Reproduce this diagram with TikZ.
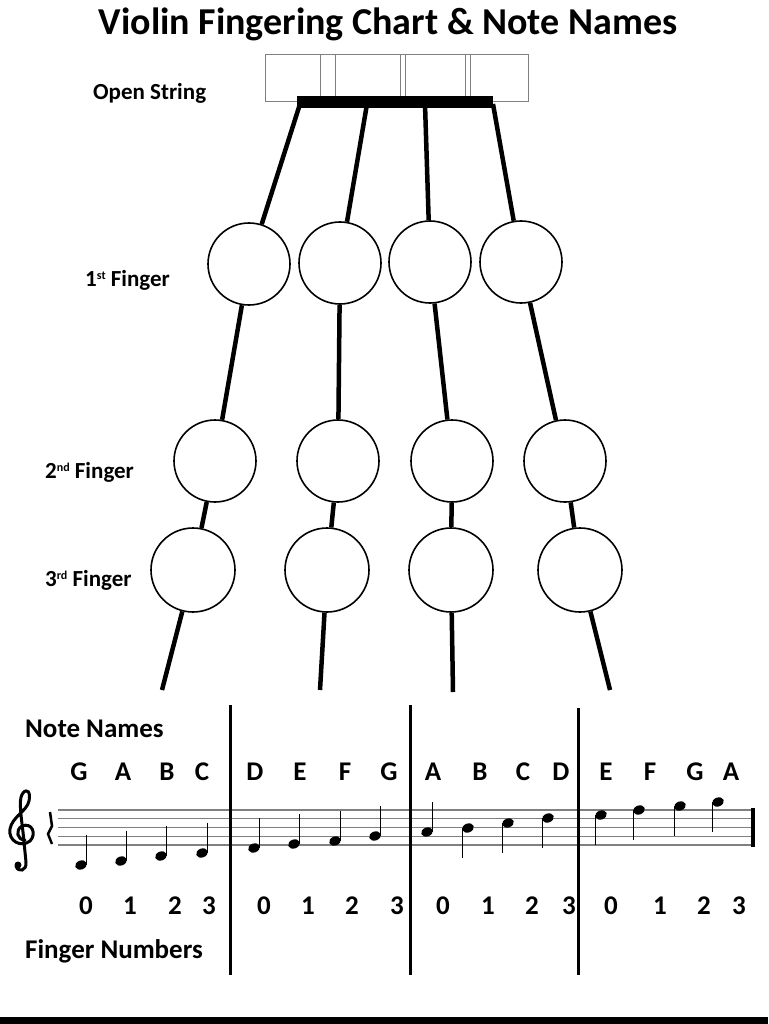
\documentclass[tikz,border=0pt]{standalone}
\usetikzlibrary{shapes.geometric}
\usepackage{fontspec}
\setmainfont{Carlito}
\newcommand\supx[1]{\raisebox{0.6ex}{\fontsize{12}{12}\selectfont #1}}
\begin{document}
\begin{tikzpicture}[x=1pt,y=-1pt,
  str/.style={line width=4.5pt},
  ring/.style={circle,draw,line width=1.6pt,minimum size=82pt,inner sep=0},
  lab/.style={font=\bfseries\fontsize{23}{23}\selectfont,anchor=west,inner sep=0},
  nm/.style={font=\bfseries\fontsize{27}{27}\selectfont},
  head/.style={ellipse,fill,minimum width=12pt,minimum height=9pt,inner sep=0,rotate=20}]
\useasboundingbox (0,0) rectangle (768,1024);
\fill (0,1017) rectangle (768,1024);
\node[font=\bfseries\fontsize{38}{38}\selectfont] (title) at (388,24) {Violin Fingering Chart \& Note Names};
\draw[gray,line width=1pt] (265,55) rectangle (528,102);
\foreach \x in {320,335,400,405,465,470} \draw[gray,line width=0.8pt] (\x,55) -- (\x,102);
\fill (297,96) rectangle (493,108);
\node[lab] (os) at (93,93) {Open String};
\node[lab] (f1) at (85,280) {1\supx{st} Finger};
\node[lab] (f2) at (45,472) {2\supx{nd} Finger};
\node[lab] (f3) at (45,580) {3\supx{rd} Finger};
\node[ring] (a1) at (249,264) {}; \node[ring] (b1) at (340,263) {};
\node[ring] (c1) at (430,262) {}; \node[ring] (d1) at (521,262) {};
\node[ring] (a2) at (215,461) {}; \node[ring] (b2) at (338,461) {};
\node[ring] (c2) at (452,461) {}; \node[ring] (d2) at (565,461) {};
\node[ring,minimum size=84pt] (a3) at (193,570) {}; \node[ring,minimum size=84pt] (b3) at (327,570) {};
\node[ring,minimum size=84pt] (c3) at (451,570) {}; \node[ring,minimum size=84pt] (d3) at (580,570) {};
\coordinate (ta) at (300,104); \coordinate (tb) at (367,104);
\coordinate (tc) at (425,104); \coordinate (td) at (493,104);
\coordinate (ea) at (162,690); \coordinate (eb) at (320,690);
\coordinate (ec) at (453,692); \coordinate (ed) at (610,690);
\draw[str] (ta) -- (a1); \draw[str] (tb) -- (b1); \draw[str] (tc) -- (c1); \draw[str] (td) -- (d1);
\draw[str] (a1) -- (a2); \draw[str] (b1) -- (b2); \draw[str] (c1) -- (c2); \draw[str] (d1) -- (d2);
\draw[str] (a2) -- (a3); \draw[str] (b2) -- (b3); \draw[str] (c2) -- (c3); \draw[str] (d2) -- (d3);
\draw[str] (a3) -- (ea); \draw[str] (b3) -- (eb); \draw[str] (c3) -- (ec); \draw[str] (d3) -- (ed);
\node[nm,anchor=west,inner sep=0] (nn) at (25,729) {Note Names};
\node[nm,anchor=west,inner sep=0] (fn) at (25,951) {Finger Numbers};
\foreach \y in {810,818.75,827.5,836.25,845} \draw[gray,line width=1.2pt] (58,\y) -- (753,\y);
\draw[line width=4pt] (753,808) -- (753,847);
\foreach \x/\a/\b in {230/705/975,410/705/975,578/708/975} \draw[line width=3pt] (\x,\a) -- (\x,\b);
\draw[line width=3pt,line cap=round]
  (25,840) .. controls (17,840) and (15,830) .. (22,826)
  .. controls (32,822) and (37,834) .. (30,841)
  .. controls (21,848) and (8,841) .. (10,829)
  .. controls (12,817) and (27,811) .. (29,801)
  .. controls (31,792) and (27,788) .. (23,793)
  .. controls (19,798) and (20,808) .. (23,832)
  -- (26,862) .. controls (27,871) and (18,873) .. (16,866);
\fill (18,865) circle (3.5pt);
\draw[line width=2.5pt] (50,812) -- (52,826) -- (48,834) -- (52,844);
\foreach \x/\y/\s in {81/865/1,121/861/1,161/856/1,202/853/1,
 254/848/1,294/844/1,335/841/1,375/836/1,
 427/832/1,468/828/0,508/823/0,548/818/0,
 601/815/0,639/810/0,680/806/0,718/802/0}{
  \node[head] at (\x,\y) {};
  \ifnum\s=1 \draw[line width=1pt] (\x+5.5,\y) -- (\x+5.5,\y-30); \else \draw[line width=1pt] (\x-5.5,\y) -- (\x-5.5,\y+30); \fi
}
\foreach \x/\t in {79/G,123/A,167/B,202/C,255/D,300/E,345/F,389/G,433/A,480/B,523/C,561/D,606/E,650/F,695/G,731/A}
  \node[nm] at (\x,772) {\t};
\foreach \x/\t in {86/0,130/1,175/2,209/3,264/0,308/1,352/2,397/3,443/0,488/1,532/2,569/3,611/0,660/1,704/2,739/3}
  \node[nm] at (\x,906) {\t};
\end{tikzpicture}
\end{document}
